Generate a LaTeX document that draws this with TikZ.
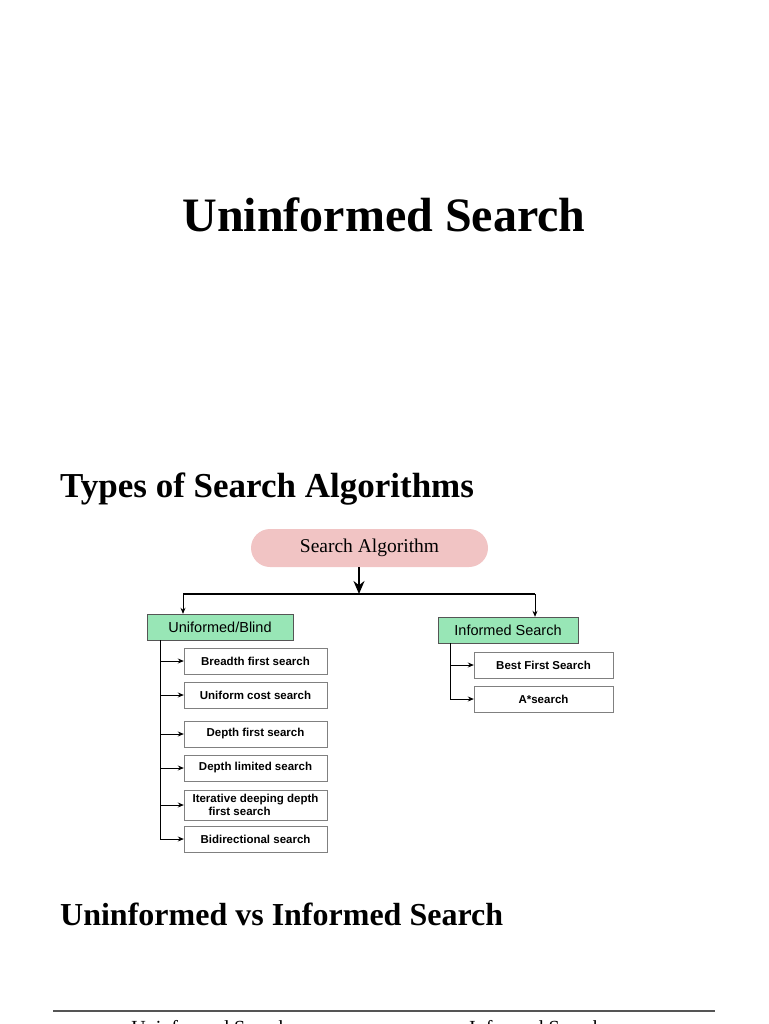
\documentclass[tikz,border=0pt]{standalone}
\usepackage{fontspec}
\setmainfont{Liberation Serif}
\newfontfamily\boxfont{Liberation Sans}
\usetikzlibrary{arrows.meta,positioning}

\definecolor{pillpink}{HTML}{F1C4C4}
\definecolor{leafgreen}{HTML}{98E6B6}
\definecolor{rulegray}{HTML}{555555}

\newcommand*{\pagew}{768}
\newcommand*{\pageh}{1024}
\newcommand*{\ltrunkx}{160}
\newcommand*{\rtrunkx}{450}

\begin{document}
\begin{tikzpicture}
[
	x=1pt, y=-1pt,
	heading/.style={anchor=base west, inner sep=0pt, font=\bfseries\fontsize{35}{40}\selectfont},
	algo/.style={fill=pillpink, rounded corners=19pt, minimum width=237pt, minimum height=38pt, inner sep=0pt, font=\fontsize{19.5}{22}\selectfont},
	kind/.style={draw=rulegray, fill=leafgreen, minimum height=26pt, inner sep=0pt, font=\boxfont\fontsize{14.5}{16}\selectfont},
	leaf/.style={draw=gray, fill=white, minimum width=143pt, minimum height=26pt, inner sep=0pt, align=center, font=\boxfont\bfseries\fontsize{11.5}{12.5}\selectfont},
	tip/.style={-{Stealth[length=6pt,width=5pt]}, thick},
	bigtip/.style={-{Stealth[length=13pt,width=11pt]}, line width=2pt}
]

	% page
	\useasboundingbox (0,0) rectangle (\pagew,\pageh);

	% titles
	\node[anchor=base, inner sep=0pt, font=\bfseries\fontsize{48}{56}\selectfont] (title) at (384,232) {Uninformed Search};
	\node[heading] (types) at (60,497) {Types of Search Algorithms};
	\node[heading, font=\bfseries\fontsize{32}{38}\selectfont] (versus) at (60,925) {Uninformed vs Informed Search};

	% tree
	\node[algo] (algo) at (369.5,548) {Search Algorithm};
	\node[kind, minimum width=146pt] (blind) at (220,627) {Uniformed/Blind};
	\node[kind, minimum width=140pt] (informed) at (508,630) {Informed Search};

	\node[leaf] (bfs) at (255.5,661) {Breadth first search};
	\node[leaf] (ucs) at (255.5,695) {Uniform cost search};
	\node[leaf] (dfs) at (255.5,734) {Depth first search};
	\node[leaf] (dls) at (255.5,768) {Depth limited search};
	\node[leaf, minimum height=30pt, align=left] (iddfs) at (255.5,805) {Iterative deeping depth\\\hspace*{16pt}first search};
	\node[leaf] (bds) at (255.5,839) {Bidirectional search};

	\node[leaf, minimum width=139pt] (best) at (543.5,665) {Best First Search};
	\node[leaf, minimum width=139pt] (astar) at (543.5,699) {A*search};

	% branches
	\coordinate (split) at (359,594);
	\coordinate (lsplit) at (183,594);
	\coordinate (rsplit) at (535,594);
	\draw[bigtip] (algo.south -| split) -- (split);
	\draw[line width=2pt] (lsplit) -- (rsplit);
	\draw[tip] (lsplit) -- (lsplit |- blind.north);
	\draw[tip] (rsplit) -- (rsplit |- informed.north);

	% trunks
	\coordinate (ltrunk) at (\ltrunkx,0);
	\coordinate (rtrunk) at (\rtrunkx,0);
	\draw[thick] (ltrunk |- blind.south) -- (ltrunk |- bds.west);
	\foreach \n in {bfs,ucs,dfs,dls,iddfs,bds} {
		\draw[tip] (ltrunk |- \n.west) -- (\n.west);
	}
	\draw[thick] (rtrunk |- informed.south) -- (rtrunk |- astar.west);
	\foreach \n in {best,astar} {
		\draw[tip] (rtrunk |- \n.west) -- (\n.west);
	}

	% table head
	\coordinate (rulel) at (53,1011);
	\coordinate (ruler) at (715,1011);
	\draw[rulegray, line width=1.5pt] (rulel) -- (ruler);
	\node[anchor=base, inner sep=0pt, font=\fontsize{20}{24}\selectfont] (uhead) at (210,1034) {Uninformed Search};
	\node[anchor=base, inner sep=0pt, font=\fontsize{20}{24}\selectfont] (ihead) at (536,1034) {Informed Search};

\end{tikzpicture}
\end{document}
